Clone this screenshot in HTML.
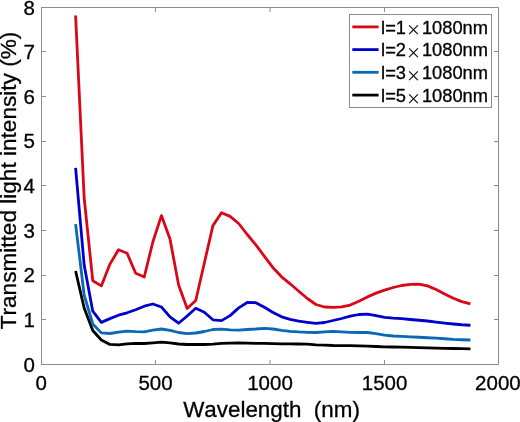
<!DOCTYPE html>
<html><head><meta charset="utf-8"><style>
html,body{margin:0;padding:0;background:#fff;width:520px;height:422px;overflow:hidden}
svg{display:block}
text{white-space:pre;font-kerning:none}
</style></head><body>
<svg width="520" height="422" viewBox="0 0 520 422">
<rect width="520" height="422" fill="#fff"/>
<g fill="none" stroke-width="2.8" stroke-linejoin="round" stroke-linecap="butt">
<polyline points="75.59,271.00 84.17,308.00 92.75,330.50 101.34,340.00 109.92,344.40 118.50,344.80 127.09,343.80 135.67,343.30 144.25,343.50 152.84,342.80 161.42,342.20 170.01,342.80 178.59,344.00 187.17,344.50 195.76,344.40 204.34,344.50 212.92,344.20 221.51,343.40 230.09,343.10 238.68,342.80 247.26,343.10 255.84,343.30 264.43,343.40 273.01,343.70 281.60,343.90 290.18,343.90 298.76,344.00 307.35,344.20 315.93,344.80 324.51,345.20 333.10,345.50 341.68,345.60 350.26,345.70 358.85,345.80 367.43,346.10 376.02,346.50 384.60,346.80 393.18,347.00 401.77,347.20 410.35,347.40 418.94,347.60 427.52,347.80 436.10,348.10 444.69,348.30 453.27,348.50 461.85,348.70 470.44,348.80" stroke="#000000"/>
<polyline points="75.59,224.20 84.17,295.00 92.75,324.00 101.34,332.90 109.92,333.50 118.50,332.10 127.09,331.20 135.67,331.70 144.25,331.80 152.84,330.20 161.42,329.00 170.01,330.40 178.59,332.50 187.17,333.60 195.76,333.00 204.34,331.50 212.92,329.50 221.51,329.20 230.09,329.80 238.68,330.20 247.26,329.50 255.84,329.00 264.43,328.30 273.01,329.00 281.60,330.40 290.18,331.30 298.76,331.90 307.35,332.30 315.93,332.50 324.51,331.80 333.10,331.40 341.68,331.80 350.26,332.30 358.85,332.50 367.43,332.50 376.02,333.70 384.60,335.20 393.18,336.00 401.77,336.30 410.35,336.80 418.94,337.25 427.52,337.75 436.10,338.10 444.69,338.75 453.27,339.40 461.85,339.75 470.44,340.00" stroke="#0a68b4"/>
<polyline points="75.59,167.80 84.17,265.00 92.75,311.20 101.34,322.40 109.92,318.60 118.50,315.20 127.09,312.80 135.67,309.80 144.25,306.20 152.84,304.00 161.42,307.00 170.01,316.80 178.59,323.20 187.17,316.00 195.76,308.30 204.34,312.20 212.92,319.80 221.51,320.60 230.09,315.60 238.68,307.90 247.26,302.50 255.84,302.70 264.43,307.30 273.01,312.50 281.60,316.80 290.18,319.40 298.76,321.20 307.35,322.30 315.93,323.30 324.51,322.50 333.10,320.50 341.68,318.50 350.26,316.20 358.85,314.50 367.43,314.10 376.02,315.60 384.60,317.30 393.18,318.10 401.77,318.70 410.35,319.50 418.94,320.25 427.52,321.00 436.10,322.10 444.69,323.10 453.27,324.00 461.85,324.75 470.44,325.25" stroke="#0000cc"/>
<polyline points="75.59,15.50 84.17,198.00 92.75,280.70 101.34,285.90 109.92,264.10 118.50,249.80 127.09,253.30 135.67,273.20 144.25,277.00 152.84,242.00 161.42,215.60 170.01,239.10 178.59,284.90 187.17,308.50 195.76,300.50 204.34,263.00 212.92,225.60 221.51,212.80 230.09,216.40 238.68,223.50 247.26,234.50 255.84,244.90 264.43,256.30 273.01,267.70 281.60,276.80 290.18,283.80 298.76,291.20 307.35,298.50 315.93,304.50 324.51,307.00 333.10,307.40 341.68,306.80 350.26,305.10 358.85,301.20 367.43,296.90 376.02,293.10 384.60,290.20 393.18,287.50 401.77,285.50 410.35,284.30 418.94,284.10 427.52,285.90 436.10,289.50 444.69,294.00 453.27,298.30 461.85,301.60 470.44,303.90" stroke="#d80818"/>
</g>
<g stroke="#8c8c8c" stroke-width="1" fill="none">
<rect x="41.5" y="7.5" width="457.0" height="357.0"/>
<line x1="155.5" y1="364.5" x2="155.5" y2="360.0"/><line x1="155.5" y1="7.5" x2="155.5" y2="12.0"/><line x1="270" y1="364.5" x2="270" y2="360.0"/><line x1="270" y1="7.5" x2="270" y2="12.0"/><line x1="384.5" y1="364.5" x2="384.5" y2="360.0"/><line x1="384.5" y1="7.5" x2="384.5" y2="12.0"/><line x1="41.5" y1="319.5" x2="46.0" y2="319.5"/><line x1="498.5" y1="319.5" x2="494.0" y2="319.5"/><line x1="41.5" y1="275.5" x2="46.0" y2="275.5"/><line x1="498.5" y1="275.5" x2="494.0" y2="275.5"/><line x1="41.5" y1="230.5" x2="46.0" y2="230.5"/><line x1="498.5" y1="230.5" x2="494.0" y2="230.5"/><line x1="41.5" y1="185.5" x2="46.0" y2="185.5"/><line x1="498.5" y1="185.5" x2="494.0" y2="185.5"/><line x1="41.5" y1="141.5" x2="46.0" y2="141.5"/><line x1="498.5" y1="141.5" x2="494.0" y2="141.5"/><line x1="41.5" y1="96.5" x2="46.0" y2="96.5"/><line x1="498.5" y1="96.5" x2="494.0" y2="96.5"/><line x1="41.5" y1="51.5" x2="46.0" y2="51.5"/><line x1="498.5" y1="51.5" x2="494.0" y2="51.5"/>
</g>
<g font-family="'Liberation Sans', Arial, sans-serif" font-size="20.5" fill="#000" stroke="#000" stroke-width="0.3">
<text x="34.9" y="371.50" text-anchor="end">0</text><text x="34.9" y="326.88" text-anchor="end">1</text><text x="34.9" y="282.25" text-anchor="end">2</text><text x="34.9" y="237.62" text-anchor="end">3</text><text x="34.9" y="193.00" text-anchor="end">4</text><text x="34.9" y="148.38" text-anchor="end">5</text><text x="34.9" y="103.75" text-anchor="end">6</text><text x="34.9" y="59.13" text-anchor="end">7</text><text x="34.9" y="14.50" text-anchor="end">8</text><text x="41.20" y="389.9" text-anchor="middle">0</text><text x="155.50" y="389.9" text-anchor="middle">500</text><text x="270.00" y="389.9" text-anchor="middle">1000</text><text x="384.60" y="389.9" text-anchor="middle">1500</text><text x="497.90" y="389.9" text-anchor="middle">2000</text>
<text x="183.2" y="417.1" font-size="22.4">Wavelength  (nm)</text>
<text transform="translate(15.9,329.3) rotate(-90)" font-size="22.6">Transmitted light intensity (%)</text>
<rect x="349.5" y="14.5" width="142" height="93" fill="#fff" stroke="#8c8c8c" stroke-width="1"/><line x1="352.3" y1="26.9" x2="378.6" y2="26.9" stroke="#d80818" stroke-width="2.8"/><text x="381.1" y="33.60" font-size="18.3">l=1</text><text x="406.3" y="35.43" font-size="14.5" stroke="#000" stroke-width="0.12" font-family="'Noto Sans CJK SC', 'Liberation Sans', sans-serif">×</text><text x="421.9" y="33.60" font-size="18.3">1080nm</text><line x1="352.3" y1="49.6" x2="378.6" y2="49.6" stroke="#0000cc" stroke-width="2.8"/><text x="381.1" y="56.30" font-size="18.3">l=2</text><text x="406.3" y="58.13" font-size="14.5" stroke="#000" stroke-width="0.12" font-family="'Noto Sans CJK SC', 'Liberation Sans', sans-serif">×</text><text x="421.9" y="56.30" font-size="18.3">1080nm</text><line x1="352.3" y1="72.3" x2="378.6" y2="72.3" stroke="#0a68b4" stroke-width="2.8"/><text x="381.1" y="79.00" font-size="18.3">l=3</text><text x="406.3" y="80.83" font-size="14.5" stroke="#000" stroke-width="0.12" font-family="'Noto Sans CJK SC', 'Liberation Sans', sans-serif">×</text><text x="421.9" y="79.00" font-size="18.3">1080nm</text><line x1="352.3" y1="95.1" x2="378.6" y2="95.1" stroke="#000000" stroke-width="2.8"/><text x="381.1" y="101.80" font-size="18.3">l=5</text><text x="406.3" y="103.63" font-size="14.5" stroke="#000" stroke-width="0.12" font-family="'Noto Sans CJK SC', 'Liberation Sans', sans-serif">×</text><text x="421.9" y="101.80" font-size="18.3">1080nm</text>
</g>
</svg>
</body></html>
